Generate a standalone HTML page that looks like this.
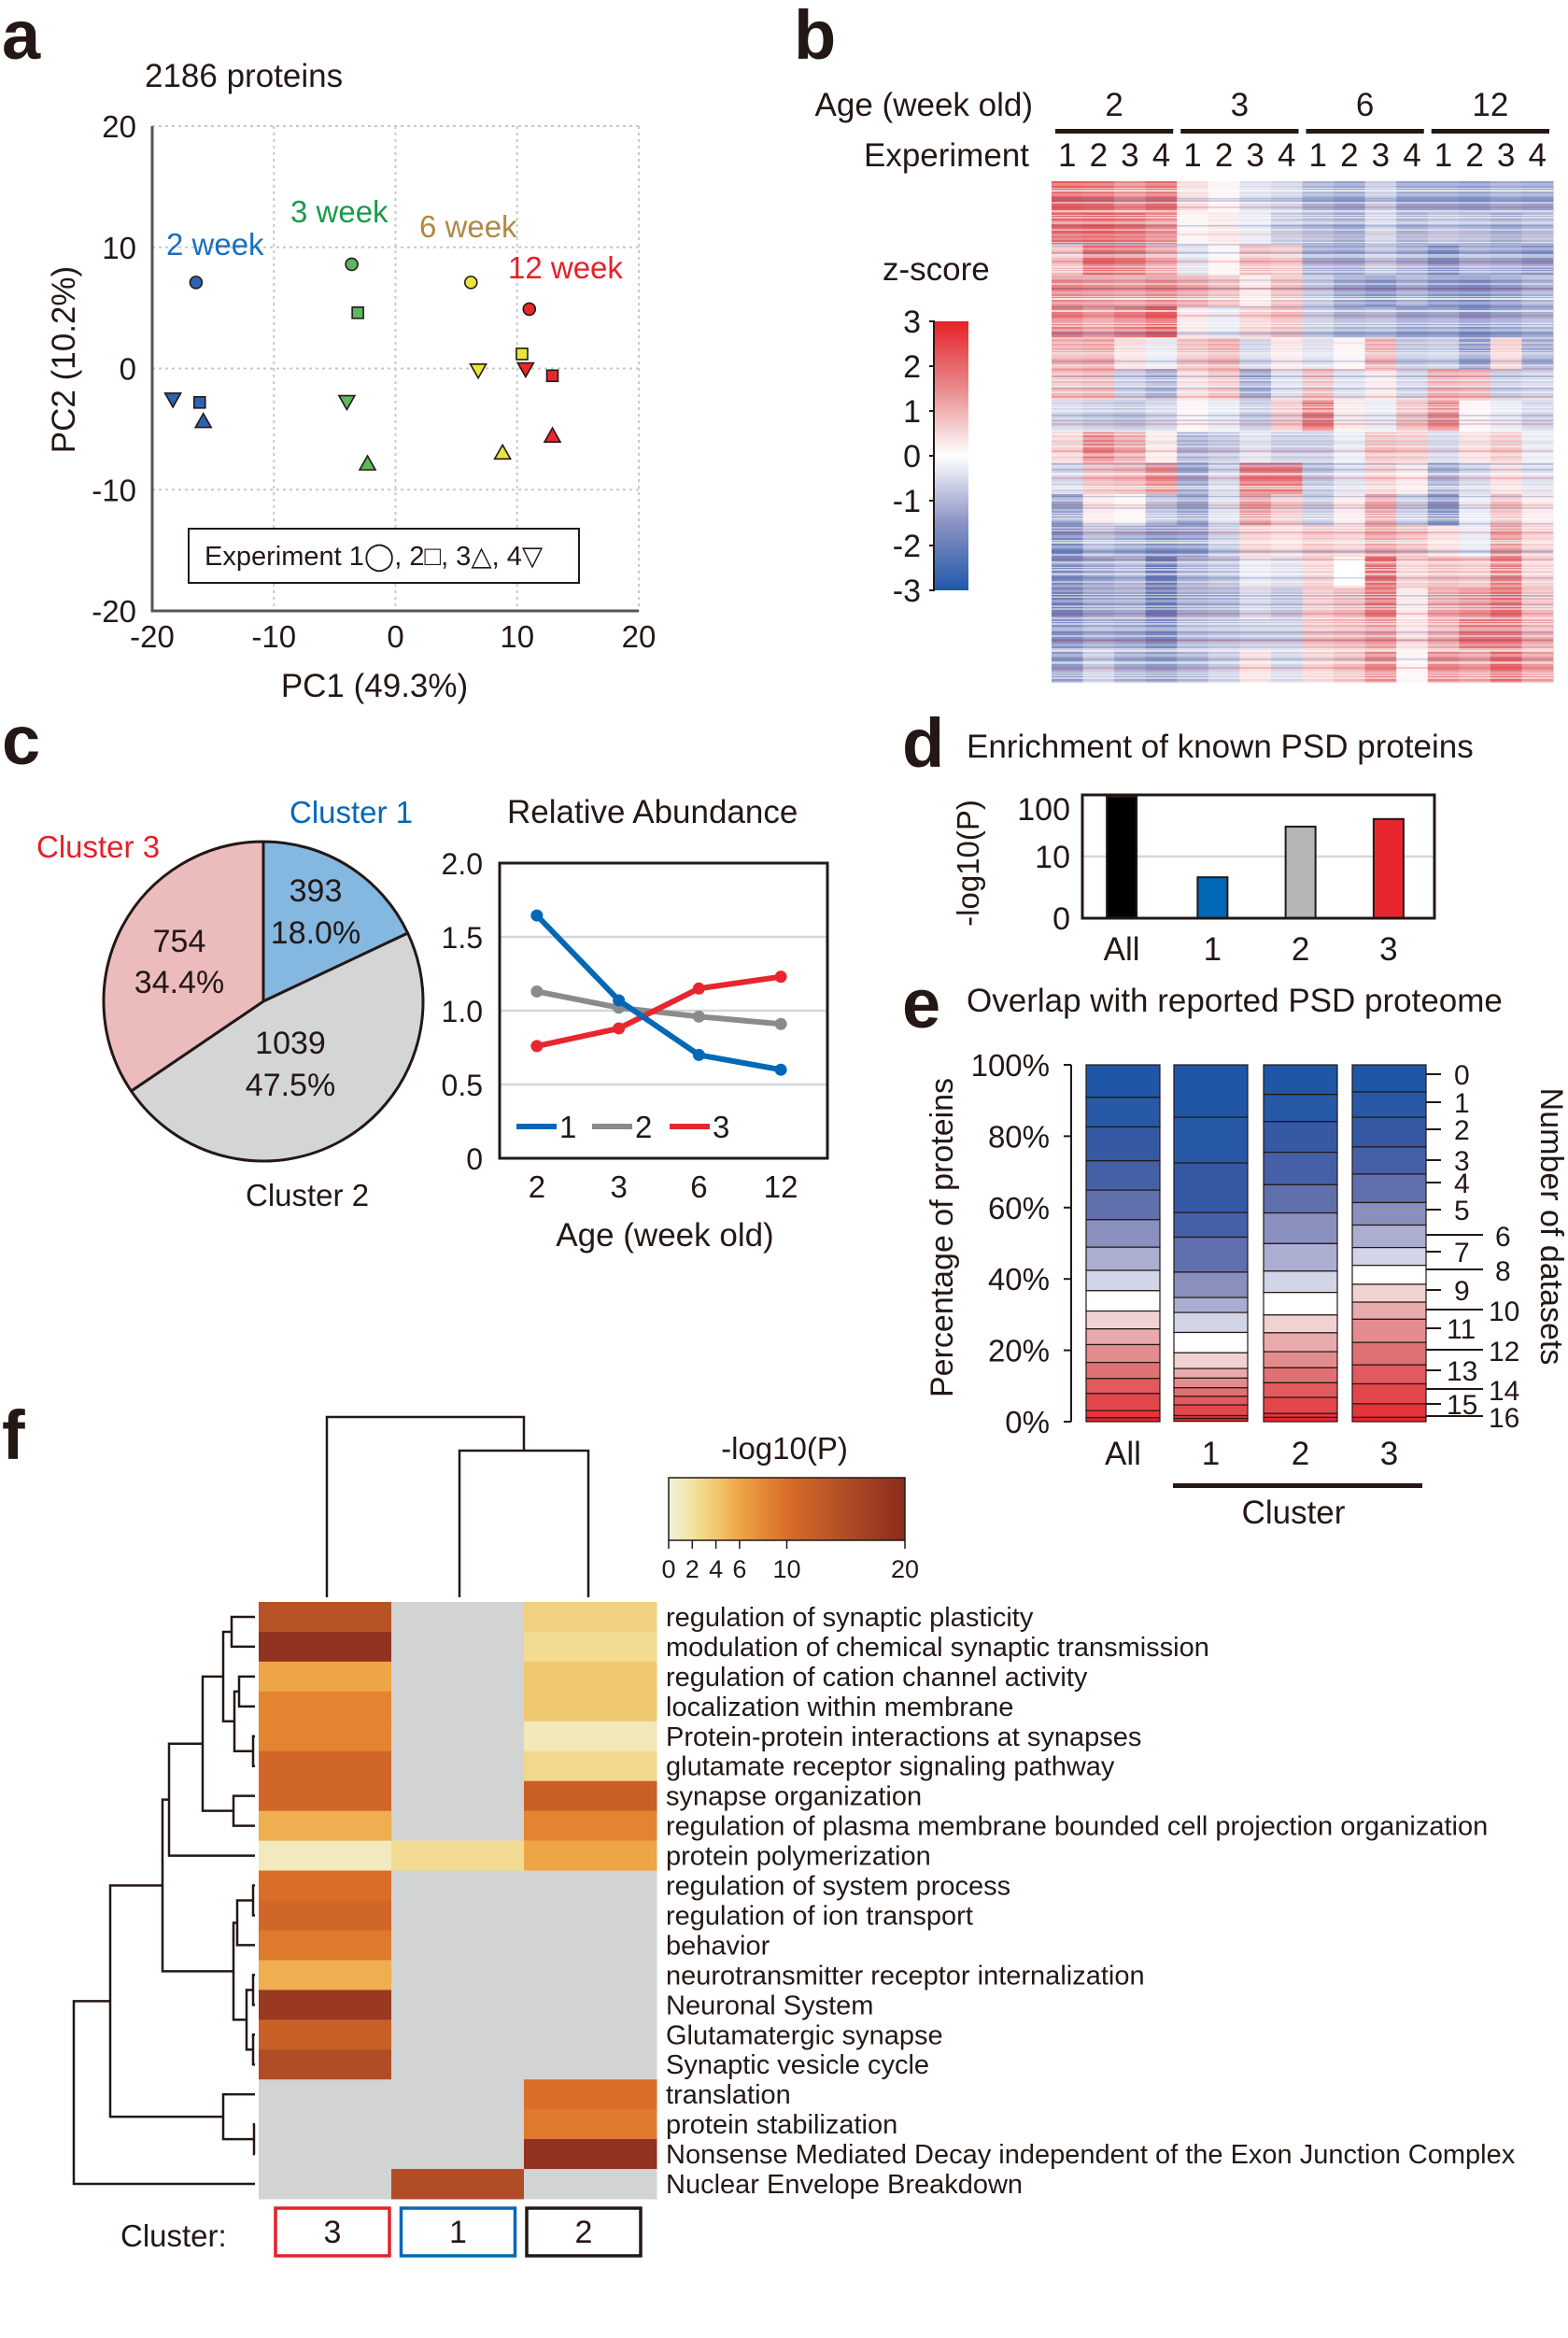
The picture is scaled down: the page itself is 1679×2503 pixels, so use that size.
<!DOCTYPE html>
<html><head><meta charset="utf-8"><title>Figure</title>
<style>
html,body{margin:0;padding:0;background:#fff;}
svg{display:block;font-family:"Liberation Sans",Arial,sans-serif;fill:#231815;}
text{fill:#231815;}
</style></head>
<body>
<svg id="fig" xmlns="http://www.w3.org/2000/svg" width="1679" height="2503" viewBox="0 0 1679 2503">
<defs>
<linearGradient id="zgrad" x1="0" y1="0" x2="0" y2="1">
<stop offset="0" stop-color="#e52229"/><stop offset="0.25" stop-color="#e88a8c"/><stop offset="0.5" stop-color="#ffffff"/><stop offset="0.75" stop-color="#8a92c4"/><stop offset="1" stop-color="#2059a8"/>
</linearGradient>
<linearGradient id="pgrad" x1="0" y1="0" x2="1" y2="0">
<stop offset="0" stop-color="#f0f0dc"/><stop offset="0.1" stop-color="#f3e3a0"/><stop offset="0.2" stop-color="#f0c870"/><stop offset="0.3" stop-color="#eea545"/><stop offset="0.5" stop-color="#d86e28"/><stop offset="0.75" stop-color="#b04c26"/><stop offset="1" stop-color="#8a2c1e"/>
</linearGradient>
<pattern id="stripes" x="0" y="0" width="34" height="29" patternUnits="userSpaceOnUse">
<rect x="0" y="0" width="34" height="2" fill="#fff" opacity="0.55"/>
<rect x="0" y="4" width="34" height="3" fill="#fff" opacity="0.3"/>
<rect x="0" y="9" width="34" height="1.5" fill="#3050a0" opacity="0.25"/>
<rect x="0" y="13" width="34" height="2" fill="#fff" opacity="0.45"/>
<rect x="0" y="18" width="34" height="2" fill="#e02028" opacity="0.2"/>
<rect x="0" y="22" width="34" height="3" fill="#fff" opacity="0.25"/>
<rect x="0" y="27" width="34" height="1" fill="#fff" opacity="0.6"/>
</pattern>
<pattern id="stripes2" x="0" y="0" width="34" height="47" patternUnits="userSpaceOnUse">
<rect x="0" y="3" width="34" height="2" fill="#fff" opacity="0.4"/>
<rect x="0" y="15" width="34" height="3" fill="#fff" opacity="0.3"/>
<rect x="0" y="26" width="34" height="2" fill="#203c90" opacity="0.2"/>
<rect x="0" y="37" width="34" height="2" fill="#fff" opacity="0.5"/>
</pattern>
</defs>

<!-- ===== Panel a ===== -->
<g id="panel-a">
<text x="2" y="63" font-size="74" font-weight="bold">a</text>
<text x="155" y="93" font-size="35">2186 proteins</text>
<g id="a-grid"></g>
<g id="a-points"></g>
<text x="178" y="273" font-size="33" style="fill:#1a6fc0">2 week</text>
<text x="311" y="238" font-size="33" style="fill:#1a9a4a">3 week</text>
<text x="449" y="254" font-size="33" style="fill:#b08845">6 week</text>
<text x="544" y="298" font-size="33" style="fill:#e5202a">12 week</text>
<rect x="202" y="566" width="418" height="58" fill="#fff" stroke="#231815" stroke-width="2"/>
<text x="219" y="605" font-size="29">Experiment 1◯, 2□, 3△, 4▽</text>
<text transform="translate(80,385) rotate(-90)" text-anchor="middle" font-size="35">PC2 (10.2%)</text>
<text x="401" y="746" text-anchor="middle" font-size="35">PC1 (49.3%)</text>
</g>

<!-- ===== Panel b ===== -->
<g id="panel-b">
<text x="850" y="63" font-size="74" font-weight="bold">b</text>
<text x="1106" y="124" text-anchor="end" font-size="35">Age (week old)</text>
<text x="1102" y="178" text-anchor="end" font-size="35">Experiment</text>
<g id="b-header"></g>
<g id="b-cells"></g>
<rect x="1126" y="194" width="537" height="536" fill="url(#stripes)"/>
<rect x="1126" y="194" width="537" height="536" fill="url(#stripes2)"/>
<text x="945" y="300" font-size="35">z-score</text>
<rect x="1001" y="344" width="36" height="288" fill="url(#zgrad)"/>
<g id="b-cbticks"></g>
</g>

<!-- ===== Panel c ===== -->
<g id="panel-c">
<text x="2" y="818" font-size="74" font-weight="bold">c</text>
<g id="c-pie"></g>
<text x="310" y="881" font-size="33" style="fill:#0068b7">Cluster 1</text>
<text x="39" y="918" font-size="33" style="fill:#e5202a">Cluster 3</text>
<text x="263" y="1291" font-size="33">Cluster 2</text>
<text x="543" y="881" font-size="35">Relative Abundance</text>
<g id="c-line"></g>
<text x="712" y="1334" text-anchor="middle" font-size="35">Age (week old)</text>
</g>

<!-- ===== Panel d ===== -->
<g id="panel-d">
<text x="966" y="821" font-size="74" font-weight="bold">d</text>
<text x="1035" y="811" font-size="35">Enrichment of known PSD proteins</text>
<g id="d-bars"></g>
<text transform="translate(1048,924) rotate(-90)" text-anchor="middle" font-size="33">-log10(P)</text>
</g>

<!-- ===== Panel e ===== -->
<g id="panel-e">
<text x="966" y="1100" font-size="74" font-weight="bold">e</text>
<text x="1035" y="1083" font-size="35">Overlap with reported PSD proteome</text>
<g id="e-bars"></g>
<text transform="translate(1020,1325) rotate(-90)" text-anchor="middle" font-size="34">Percentage of proteins</text>
<text transform="translate(1650,1313) rotate(90)" text-anchor="middle" font-size="34">Number of datasets</text>
<rect x="1256" y="1588" width="267" height="5" fill="#231815"/>
<text x="1385" y="1631" text-anchor="middle" font-size="35">Cluster</text>
</g>

<!-- ===== Panel f ===== -->
<g id="panel-f">
<text x="2" y="1562" font-size="74" font-weight="bold">f</text>
<text x="840" y="1562" text-anchor="middle" font-size="33">-log10(P)</text>
<rect x="716" y="1582" width="253" height="67" fill="url(#pgrad)" stroke="#231815" stroke-width="1.5"/>
<g id="f-cbticks"></g>
<g id="f-dendro"></g>
<g id="f-cells"></g>
<g id="f-labels"></g>
<text x="129" y="2405" font-size="33">Cluster:</text>
<g id="f-boxes"></g>
</g>
</svg>

<script>
// ---------- Panel a data ----------
const pcaWeeks = ["2","3","6","12"];
const pcaColors = ["#2a64b0","#5cb85a","#e6e63c","#e8282e"];
const pcaPC1 = [[-16.4,-16.1,-15.8,-18.3],[-3.6,-3.1,-2.3,-4.0],[6.2,10.4,8.8,6.8],[11.0,12.9,12.9,10.7]];
const pcaPC2 = [[7.1,-2.8,-4.4,-2.5],[8.6,4.6,-7.9,-2.7],[7.1,1.2,-7.0,-0.1],[4.9,-0.6,-5.6,0.0]];
const pcaTicks = [-20,-10,0,10,20];

// ---------- Panel b data ----------
const hmAges = ["2","3","6","12"];
const hmExperiments = ["1","2","3","4"];
const zTicks = [3,2,1,0,-1,-2,-3];
const hmBlocks = [
[1.8,1.6,1.2,1.5, 0.3,0.1,-0.3,-0.4, -0.8,-1.0,-0.5,-1.0, -1.0,-1.1,-0.9,-1.0],
[1.6,1.8,1.5,1.2, 0.1,0.2,-0.2,-0.5, -0.7,-0.9,-0.4,-0.8, -0.6,-0.7,-0.9,-0.7],
[0.6,1.6,1.4,0.9, -0.3,0.1,0.6,0.5, -0.9,-1.0,-0.6,-0.9, -1.3,-0.9,-1.0,-1.2],
[1.2,1.1,1.0,1.2, 0.9,0.6,0.2,0.6, -0.6,-1.0,-1.2,-0.9, -1.2,-1.3,-1.1,-0.8],
[1.3,1.0,1.3,1.8, 0.2,-0.2,0.4,0.6, -0.5,-0.8,-0.7,-1.0, -0.9,-1.2,-1.0,-0.8],
[0.8,0.9,0.3,-0.2, 0.6,0.8,-0.4,0.2, -0.3,0.1,0.8,-0.6, -0.5,-1.1,0.4,-0.9],
[0.6,0.7,-0.5,-0.8, 0.3,0.5,-0.9,-0.3, 0.6,-0.3,0.2,-0.4, 0.8,0.7,-0.5,-0.4],
[-0.4,-0.5,-0.6,-0.4, 0.1,-0.2,-0.5,0.5, 1.4,0.2,-0.2,0.6, 1.2,0.1,-0.2,-0.4],
[0.4,1.3,0.9,0.2, -0.8,-0.6,-0.3,-0.5, -0.5,-0.2,0.6,0.5, -0.4,0.3,0.5,-0.2],
[-0.4,0.6,0.7,1.2, -1.0,-0.4,1.4,1.4, -0.6,-0.3,0.4,0.2, -0.8,-0.4,0.3,-0.3],
[-1.0,0.2,0.1,-0.6, -1.0,-0.3,1.0,0.5, -0.5,0.2,0.9,-0.5, -1.2,-0.2,0.6,0.2],
[-1.3,-0.7,-0.9,-1.2, -1.1,-0.5,0.4,0.3, 0.5,0.4,0.9,0.6, 0.3,-0.2,1.0,0.4],
[-1.3,-1.0,-0.8,-1.5, -0.8,-0.6,-0.2,-0.3, 0.4,0.0,1.5,0.4, 0.6,0.5,1.3,0.4],
[-1.4,-1.0,-0.9,-1.5, -0.9,-0.8,-0.4,-0.6, 0.5,0.7,1.4,0.2, 0.9,1.1,1.5,0.6],
[-1.2,-0.9,-1.0,-1.3, -0.7,-0.6,-0.5,-0.5, 0.6,0.7,1.0,0.3, 0.8,1.4,1.4,0.8],
[-1.1,-0.5,-0.9,-1.1, -0.8,-0.5,0.3,-0.4, 0.4,0.6,1.2,0.1, 1.2,1.0,1.6,1.0]
];

// ---------- Panel c data ----------
const pieLabels = ["Cluster 1","Cluster 2","Cluster 3"];
const pieCounts = [393,1039,754];
const piePercents = ["18.0%","47.5%","34.4%"];
const pieColors = ["#85b8e0","#d4d5d7","#ecbcbd"];
const ageCats = ["2","3","6","12"];
const abund1 = [1.645,1.07,0.70,0.60];
const abund2 = [1.13,1.02,0.96,0.91];
const abund3 = [0.76,0.88,1.15,1.23];
const abundTicks = ["0","0.5","1.0","1.5","2.0"];

// ---------- Panel d data ----------
const enrichCats = ["All","1","2","3"];
const enrichVals = [110,3.9,34,46];
const enrichColors = ["#000000","#0068b7","#b5b6b6","#e8262f"];
const enrichTicks = [0,10,100];

// ---------- Panel e data ----------
const overlapCats = ["All","1","2","3"];
const overlapAll = [9.1,8.3,9.5,8.2,8.3,7.7,6.5,5.7,5.7,5.0,4.4,5.0,4.5,4.2,4.8,2.0,1.1];
const overlapC1 = [14.7,12.8,13.9,6.9,9.8,7.1,4.2,5.6,5.7,4.4,2.7,2.7,2.4,2.4,3.0,0.8,0.8];
const overlapC2 = [8.3,7.6,8.6,9.1,7.9,8.6,7.7,6.0,6.3,5.0,5.3,4.5,4.2,4.1,4.5,1.1,1.2];
const overlapC3 = [7.6,7.1,8.3,7.6,8.0,6.3,6.3,5.0,5.3,5.0,4.8,6.5,6.3,5.3,5.6,3.8,1.2];
const overlapTicks = ["0%","20%","40%","60%","80%","100%"];
const datasetColors = ["#1f56a6","#2859a6","#3659a4","#4660a8","#5f70ad","#8990be","#abaed0","#d2d4e7","#ffffff","#f0d2d3","#e9aaac","#e38c8e","#df7174","#e05a5e","#e3474c","#e5343a","#e6242b"];

// ---------- Panel f data ----------
const goTerms = ["regulation of synaptic plasticity","modulation of chemical synaptic transmission","regulation of cation channel activity","localization within membrane","Protein-protein interactions at synapses","glutamate receptor signaling pathway","synapse organization","regulation of plasma membrane bounded cell projection organization","protein polymerization","regulation of system process","regulation of ion transport","behavior","neurotransmitter receptor internalization","Neuronal System","Glutamatergic synapse","Synaptic vesicle cycle","translation","protein stabilization","Nonsense Mediated Decay independent of the Exon Junction Complex","Nuclear Envelope Breakdown"];
const goClusters = ["3","1","2"];
const goCluster3 = [14,19,6,8,8,11,11,5.5,1,10,11,9,5.5,18,12,15,null,null,null,null];
const goCluster1 = [null,null,null,null,null,null,null,null,2.6,null,null,null,null,null,null,null,null,null,null,15];
const goCluster2 = [3.3,2.6,4,4,1.2,2.8,12,8,6,null,null,null,null,null,null,null,10,9,19,null];
const goTicks = [0,2,4,6,10,20];

const NS="http://www.w3.org/2000/svg";
function mk(tag, parent){const e=document.createElementNS(NS,tag);parent.appendChild(e);return e;}
function set(e,o){for(const k in o)e.setAttribute(k,o[k]);return e;}
function hex(c){return [parseInt(c.slice(1,3),16),parseInt(c.slice(3,5),16),parseInt(c.slice(5,7),16)];}
function lerpC(a,b,t){const A=hex(a),B=hex(b);return "rgb("+A.map((v,i)=>Math.round(v+(B[i]-v)*t)).join(",")+")";}
function stopsColor(stops,v){for(let i=0;i<stops.length-1;i++){if(v<=stops[i+1][0]){const t=(v-stops[i][0])/(stops[i+1][0]-stops[i][0]);return lerpC(stops[i][1],stops[i+1][1],Math.max(0,Math.min(1,t)));}}return stops[stops.length-1][1];}

// ===== Panel a =====
(function(){
  const g=document.getElementById("a-grid"), p=document.getElementById("a-points");
  const X0=163,X1=684,Y0=135,Y1=654;
  const sx=v=>X0+(v+20)/40*(X1-X0), sy=v=>Y1-(v+20)/40*(Y1-Y0);
  pcaTicks.forEach(t=>{
    if(t>-20){
      const l1=mk("line",g); set(l1,{x1:sx(t),x2:sx(t),y1:Y0,y2:Y1,stroke:"#c8c8c8","stroke-width":2,"stroke-dasharray":"3,4"});
      
      
      const l2=mk("line",g); set(l2,{x1:X0,x2:X1,y1:sy(t),y2:sy(t),stroke:"#c8c8c8","stroke-width":2,"stroke-dasharray":"3,4"});
      
      
    }
    const tx=mk("text",g); set(tx,{x:sx(t),y:693,"text-anchor":"middle","font-size":33}); tx.textContent=String(t);
    
    
    const ty=mk("text",g); set(ty,{x:146,y:sy(t)+12,"text-anchor":"end","font-size":33}); ty.textContent=String(t);
    
    
  });
  const ax=mk("path",g); set(ax,{d:`M${X0},${Y0} V${Y1} H${X1}`,fill:"none",stroke:"#555",'stroke-width':3});
  
  
  pcaWeeks.forEach((w,i)=>{
    for(let e=0;e<4;e++){
      const x=sx(pcaPC1[i][e]), y=sy(pcaPC2[i][e]); let m;
      if(e===0){m=mk("circle",p); set(m,{cx:x,cy:y,r:6.5});}
      else if(e===1){m=mk("rect",p); set(m,{x:x-6,y:y-6,width:12,height:12});}
      else if(e===2){m=mk("path",p); set(m,{d:`M${x},${y-9} L${x+8.5},${y+6} L${x-8.5},${y+6} Z`});}
      else {m=mk("path",p); set(m,{d:`M${x-8.5},${y-6} L${x+8.5},${y-6} L${x},${y+9} Z`});}
      set(m,{fill:pcaColors[i],stroke:"#231815","stroke-width":1.6});
      
      
    }
  });
})();

// ===== Panel b =====
(function(){
  const h=document.getElementById("b-header"), c=document.getElementById("b-cells"), cb=document.getElementById("b-cbticks");
  const X0=1126,X1=1663,Y0=194,Y1=730, cw=(X1-X0)/16;
  const zStops=[[-3,"#2059a8"],[-1.5,"#6878b6"],[-0.5,"#c4c8e0"],[0,"#ffffff"],[0.5,"#f2c4c6"],[1.5,"#e26a6e"],[3,"#e52229"]];
  hmAges.forEach((a,gi)=>{
    const gx=X0+gi*4*cw;
    const bar=mk("rect",h); set(bar,{x:gx+4,y:138,width:4*cw-8,height:5,fill:"#231815"});
    
    
    const t=mk("text",h); set(t,{x:gx+2*cw,y:124,"text-anchor":"middle","font-size":35}); t.textContent=a;
    
    
    hmExperiments.forEach((e,ei)=>{
      const te=mk("text",h); set(te,{x:gx+(ei+0.5)*cw,y:178,"text-anchor":"middle","font-size":35}); te.textContent=e;
      
      
    });
  });
  const bh=(Y1-Y0)/hmBlocks.length;
  hmBlocks.forEach((row,ri)=>{
    row.forEach((v,ci)=>{
      const r=mk("rect",c); set(r,{x:X0+ci*cw,y:Y0+ri*bh,width:cw+0.5,height:bh+0.5,fill:stopsColor(zStops,v)});
      
      
    });
  });
  zTicks.forEach(v=>{
    const y=344+(3-v)/6*288;
    const l=mk("line",cb); set(l,{x1:995,x2:1001,y1:y,y2:y,stroke:"#231815","stroke-width":2});
    
    
    const t=mk("text",cb); set(t,{x:986,y:y+12,"text-anchor":"end","font-size":34}); t.textContent=String(v);
    
    
  });
  const al=mk("line",cb); set(al,{x1:1000,x2:1000,y1:344,y2:632,stroke:"#231815","stroke-width":2});
  
  
})();

// ===== Panel c =====
(function(){
  const pg=document.getElementById("c-pie");
  const cx=282,cy=1072,R=171; const total=pieCounts.reduce((a,b)=>a+b,0);
  let a0=0;
  const lab=[[338,953,338,998],[311,1116,311,1161],[192,1007,192,1051]];
  pieCounts.forEach((n,i)=>{
    const a1=a0+n/total*2*Math.PI;
    const p0=[cx+R*Math.sin(a0),cy-R*Math.cos(a0)], p1=[cx+R*Math.sin(a1),cy-R*Math.cos(a1)];
    const s=mk("path",pg); set(s,{d:`M${cx},${cy} L${p0[0]},${p0[1]} A${R},${R} 0 ${(a1-a0)>Math.PI?1:0} 1 ${p1[0]},${p1[1]} Z`,fill:pieColors[i],stroke:"#231815","stroke-width":3,"stroke-linejoin":"round"});
    
    
    const t1=mk("text",pg); set(t1,{x:lab[i][0],y:lab[i][1]+12,"text-anchor":"middle","font-size":34}); t1.textContent=String(n);
    
    
    const t2=mk("text",pg); set(t2,{x:lab[i][2],y:lab[i][3]+12,"text-anchor":"middle","font-size":34}); t2.textContent=piePercents[i];
    
    
    a0=a1;
  });
  const lg=document.getElementById("c-line");
  const X0=535,X1=886,Y0=924,Y1=1240;
  const sy=v=>Y1-v/2*(Y1-Y0);
  const sx=i=>X0+(i+0.5)/ageCats.length*(X1-X0)+ (i<2? -4: -6);
  abundTicks.forEach(t=>{
    const v=parseFloat(t);
    if(v>0&&v<2){const l=mk("line",lg); set(l,{x1:X0,x2:X1,y1:sy(v),y2:sy(v),stroke:"#d6d6d6","stroke-width":2.5});
      
      }
    const tx=mk("text",lg); set(tx,{x:517,y:sy(v)+12,"text-anchor":"end","font-size":32}); tx.textContent=t;
    
    
  });
  ageCats.forEach((a,i)=>{
    const t=mk("text",lg); set(t,{x:sx(i),y:1282,"text-anchor":"middle","font-size":33}); t.textContent=a;
    
    
  });
  const series=[[abund2,"#8a8b8c"],[abund3,"#e8262f"],[abund1,"#0068b7"]];
  series.forEach(([vals,col])=>{
    const pl=mk("polyline",lg); set(pl,{points:vals.map((v,i)=>sx(i)+","+sy(v)).join(" "),fill:"none",stroke:col,"stroke-width":6});
    
    
    vals.forEach((v,i)=>{const d=mk("circle",lg); set(d,{cx:sx(i),cy:sy(v),r:6.5,fill:col});
      
      });
  });
  const box=mk("rect",lg); set(box,{x:X0,y:Y0,width:X1-X0,height:Y1-Y0,fill:"none",stroke:"#231815","stroke-width":3});
  
  
  const leg=[[553,"#0068b7","1"],[634,"#8a8b8c","2"],[717,"#e8262f","3"]];
  leg.forEach(([x,col,l])=>{
    const r=mk("rect",lg); set(r,{x:x,y:1203,width:43,height:6,fill:col});
    
    
    const t=mk("text",lg); set(t,{x:x+46,y:1218,"font-size":33}); t.textContent=l;
    
    
  });
})();

// ===== Panel d =====
(function(){
  const g=document.getElementById("d-bars");
  const X0=1159,X1=1536,Y0=851,Y1=983;
  const sy=v=>Y1-63.5*Math.log10(1+v);
  const l=mk("line",g); set(l,{x1:X0,x2:X1,y1:sy(10),y2:sy(10),stroke:"#d6d6d6","stroke-width":2.5});
  
  
  enrichTicks.forEach(t=>{
    const tx=mk("text",g); set(tx,{x:1146,y:Math.max(sy(t),866)+12,"text-anchor":"end","font-size":34}); tx.textContent=String(t);
    
    
  });
  const cw=(X1-X0)/enrichCats.length;
  enrichCats.forEach((c,i)=>{
    const cx=X0+cw*(i+0.5)-(i===0?5:2);
    const r=mk("rect",g); set(r,{x:cx-16,y:sy(enrichVals[i]),width:32,height:Y1-sy(enrichVals[i]),fill:enrichColors[i],stroke:"#231815","stroke-width":2});
    
    
    const t=mk("text",g); set(t,{x:cx,y:1028,"text-anchor":"middle","font-size":35}); t.textContent=c;
    
    
  });
  const box=mk("rect",g); set(box,{x:X0,y:Y0,width:X1-X0,height:Y1-Y0,fill:"none",stroke:"#231815","stroke-width":3});
  
  
})();

// ===== Panel e =====
(function(){
  const g=document.getElementById("e-bars");
  const Y0=1140,Y1=1522; const sy=p=>Y1-p/100*(Y1-Y0);
  const xs=[1163,1257,1353,1448], w=79;
  const ax=mk("line",g); set(ax,{x1:1147,x2:1147,y1:Y0,y2:Y1,stroke:"#231815","stroke-width":2});
  
  
  overlapTicks.forEach((t,i)=>{
    const y=sy(i*20);
    const l=mk("line",g); set(l,{x1:1139,x2:1147,y1:y,y2:y,stroke:"#231815","stroke-width":2});
    
    
    const tx=mk("text",g); set(tx,{x:1124,y:y+12,"text-anchor":"end","font-size":33}); tx.textContent=t;
    
    
  });
  [overlapAll,overlapC1,overlapC2,overlapC3].forEach((vals,bi)=>{
    let top=100;
    vals.forEach((v,k)=>{
      const r=mk("rect",g); set(r,{x:xs[bi],y:sy(top),width:w,height:sy(top-v)-sy(top),fill:datasetColors[k],stroke:"#231815","stroke-width":1.2});
      
      
      top-=v;
    });
    const t=mk("text",g); set(t,{x:xs[bi]+w/2,y:1568,"text-anchor":"middle","font-size":35}); t.textContent=overlapCats[bi];
    
    
  });
  const shortT=[[0,1150],[1,1180],[2,1209],[3,1242],[4,1266],[5,1295],[7,1340],[9,1381],[11,1422],[13,1467],[15,1503]];
  const longT=[[6,1322],[8,1359],[10,1402],[12,1445],[14,1487],[16,1516]];
  shortT.forEach(([n,y])=>{
    const l=mk("line",g); set(l,{x1:1527,x2:1543,y1:y,y2:y,stroke:"#231815","stroke-width":2});
    
    
    const t=mk("text",g); set(t,{x:n>9?1549:1557,y:y+11,"font-size":30}); t.textContent=String(n);
    
    
  });
  longT.forEach(([n,y])=>{
    const l=mk("line",g); set(l,{x1:1527,x2:1588,y1:y,y2:y,stroke:"#231815","stroke-width":2});
    
    
    const t=mk("text",g); set(t,{x:n>9?1594:1601,y:y+12,"font-size":30}); t.textContent=String(n);
    
    
  });
})();

// ===== Panel f =====
(function(){
  const pStops=[[0,"#f0f0dc"],[2,"#f3e3a0"],[4,"#f0c870"],[6,"#eea545"],[8,"#e58430"],[10,"#d86e28"],[15,"#b04c26"],[20,"#8a2c1e"]];
  const cbt=document.getElementById("f-cbticks");
  const cx=v=>716+v/20*253;
  goTicks.forEach(v=>{
    const l=mk("line",cbt); set(l,{x1:cx(v),x2:cx(v),y1:1649,y2:1658,stroke:"#231815","stroke-width":1.5});
    
    
    const t=mk("text",cbt); set(t,{x:cx(v),y:1689,"text-anchor":"middle","font-size":27}); t.textContent=String(v);
    
    
  });
  const cg=document.getElementById("f-cells"), lg=document.getElementById("f-labels");
  const X0=277,X1=703,Y0=1715,Y1=2354; const cw=(X1-X0)/3, rh=(Y1-Y0)/goTerms.length;
  const cols=[goCluster3,goCluster1,goCluster2];
  goTerms.forEach((term,ri)=>{
    cols.forEach((col,ci)=>{
      const v=col[ri];
      const r=mk("rect",cg); set(r,{x:X0+ci*cw,y:Y0+ri*rh,width:cw+0.5,height:rh+0.5,fill:v===null?"#d2d3d3":stopsColor(pStops,v)});
      
      
    });
    const t=mk("text",lg); set(t,{x:713,y:Y0+ri*rh+rh/2+10,"font-size":29}); t.textContent=term;
    
    
  });
  const bg=document.getElementById("f-boxes");
  const bcol=["#e5202a","#0068b7","#231815"];
  goClusters.forEach((c,i)=>{
    const r=mk("rect",bg); set(r,{x:295+i*134.5,y:2364,width:122,height:51,fill:"none",stroke:bcol[i],"stroke-width":3.5});
    
    
    const t=mk("text",bg); set(t,{x:356+i*134.5,y:2401,"text-anchor":"middle","font-size":34}); t.textContent=c;
    
    
  });
  const dg=document.getElementById("f-dendro");
  function seg(d){const p=mk("path",dg); set(p,{d:d,fill:"none",stroke:"#231815","stroke-width":2.5});
    
    }
  const c3=X0+cw*0.5+2, c1=X0+cw*1.5+2, c2=X0+cw*2.5-2;
  seg(`M${c1},1710 V1553 H${c2} V1710`);
  seg(`M${c3},1710 V1517 H${(c1+c2)/2} V1553`);
  const leafX=273;
  const L=i=>({x:leafX,y:Y0+rh*(i-0.5)});
  function m(a,b,x){seg(`M${a.x},${a.y} H${x} V${b.y} H${b.x}`);return {x:x,y:(a.y+b.y)/2};}
  const n12=m(L(1),L(2),248);
  const n34=m(L(3),L(4),256);
  const n56=m(L(5),L(6),271);
  const n36=m(n34,n56,251);
  const n16=m(n12,n36,239);
  const n78=m(L(7),L(8),250);
  const n18=m(n16,n78,217);
  const n19=m(n18,L(9),181);
  const n1011=m(L(10),L(11),271);
  const n1012=m(n1011,L(12),254);
  const n1314=m(L(13),L(14),271);
  const n1516=m(L(15),L(16),271);
  const n1316=m(n1314,n1516,264);
  const n1016=m(n1012,n1316,250);
  const n116=m(n19,n1016,174);
  const n1819=m(L(18),L(19),272);
  const n1719=m(L(17),n1819,239);
  const n119=m(n116,n1719,118);
  m(n119,L(20),79);
})();
</script>
</body></html>
